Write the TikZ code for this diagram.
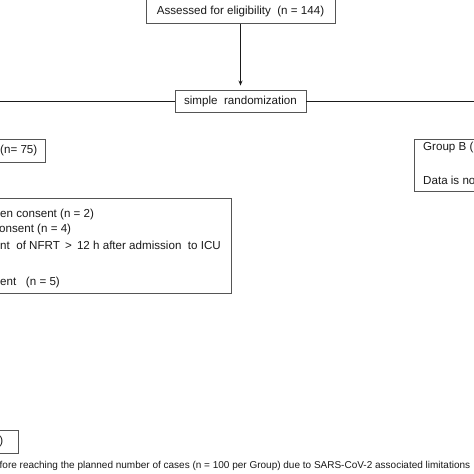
\documentclass[tikz,border=0pt]{standalone}
\usepackage{fontspec}
\setmainfont{Liberation Sans}
\usetikzlibrary{arrows.meta}
\definecolor{boxline}{HTML}{555555}
\definecolor{ink}{HTML}{1A1A1A}
\tikzset{
  box/.style={draw=boxline, line width=0.9pt, rectangle, inner sep=0pt, text=ink, font=\fontsize{11.6}{14}\selectfont},
  txt/.style={inner sep=0pt, text=ink, font=\fontsize{11.6}{14}\selectfont},
  conn/.style={draw=ink, line width=0.8pt},
}
\begin{document}
\begin{tikzpicture}[x=1pt,y=-1pt]
\useasboundingbox (0,0) rectangle (474,474);
\clip (0,0) rectangle (474,474);
\fill[white] (0,0) rectangle (474,474);
% top box
\node[box, minimum width=189pt, minimum height=24pt] (assess) at (240.5,11.5) {Assessed for eligibility\ \ (n = 144)};
% randomization
\node[box, minimum width=131pt, minimum height=22pt] (rand) at (240.5,101) {simple\ \ randomization};
\draw[conn, -{Stealth[length=5pt,width=4pt]}, shorten >=4pt] (assess.south) -- (rand.north);
\coordinate (leftend) at (-2,101);
\coordinate (rightend) at (476,101);
\draw[conn] (rand.west) -- (leftend);
\draw[conn] (rand.east) -- (rightend);
% group A box (cropped)
\node[box, minimum width=76pt, minimum height=23pt, anchor=east] (grpA) at (46,150.5) {};
\node[txt, anchor=east] (grpAtxt) at (37.5,150.5) {(n= 75)};
% group B box (cropped)
\node[box, minimum width=90pt, minimum height=52pt, anchor=north west] (grpB) at (414,139) {};
\node[txt, anchor=west] (grpB1) at (423,147.5) {Group B (};
\node[txt, anchor=west] (grpB2) at (423,180) {Data is no};
% exclusion box (cropped)
\node[box, minimum width=252pt, minimum height=95pt, anchor=north east] (excl) at (232,198) {};
\node[txt, anchor=west] (ex1) at (0,214) {en consent (n = 2)};
\node[txt, anchor=west] (ex2) at (-1,229.5) {onsent (n = 4)};
\node[txt, anchor=west] (ex3) at (0,245) {nt\ \ of NFRT \,>\, 12 h after admission\ \ to ICU};
\node[txt, anchor=west] (ex4) at (0,282) {ent\ \ \ (n = 5)};
% bottom box (cropped)
\node[box, minimum width=40pt, minimum height=23pt, anchor=east] (bot) at (19,441.5) {};
\node[txt, anchor=east] (bottxt) at (3.5,441.5) {)};
% footnote
\node[txt, anchor=west, font=\fontsize{10}{12}\selectfont] (note) at (-0.5,466) {fore reaching the planned number of cases (n = 100 per Group) due to SARS-CoV-2 associated limitations};
\end{tikzpicture}
\end{document}
